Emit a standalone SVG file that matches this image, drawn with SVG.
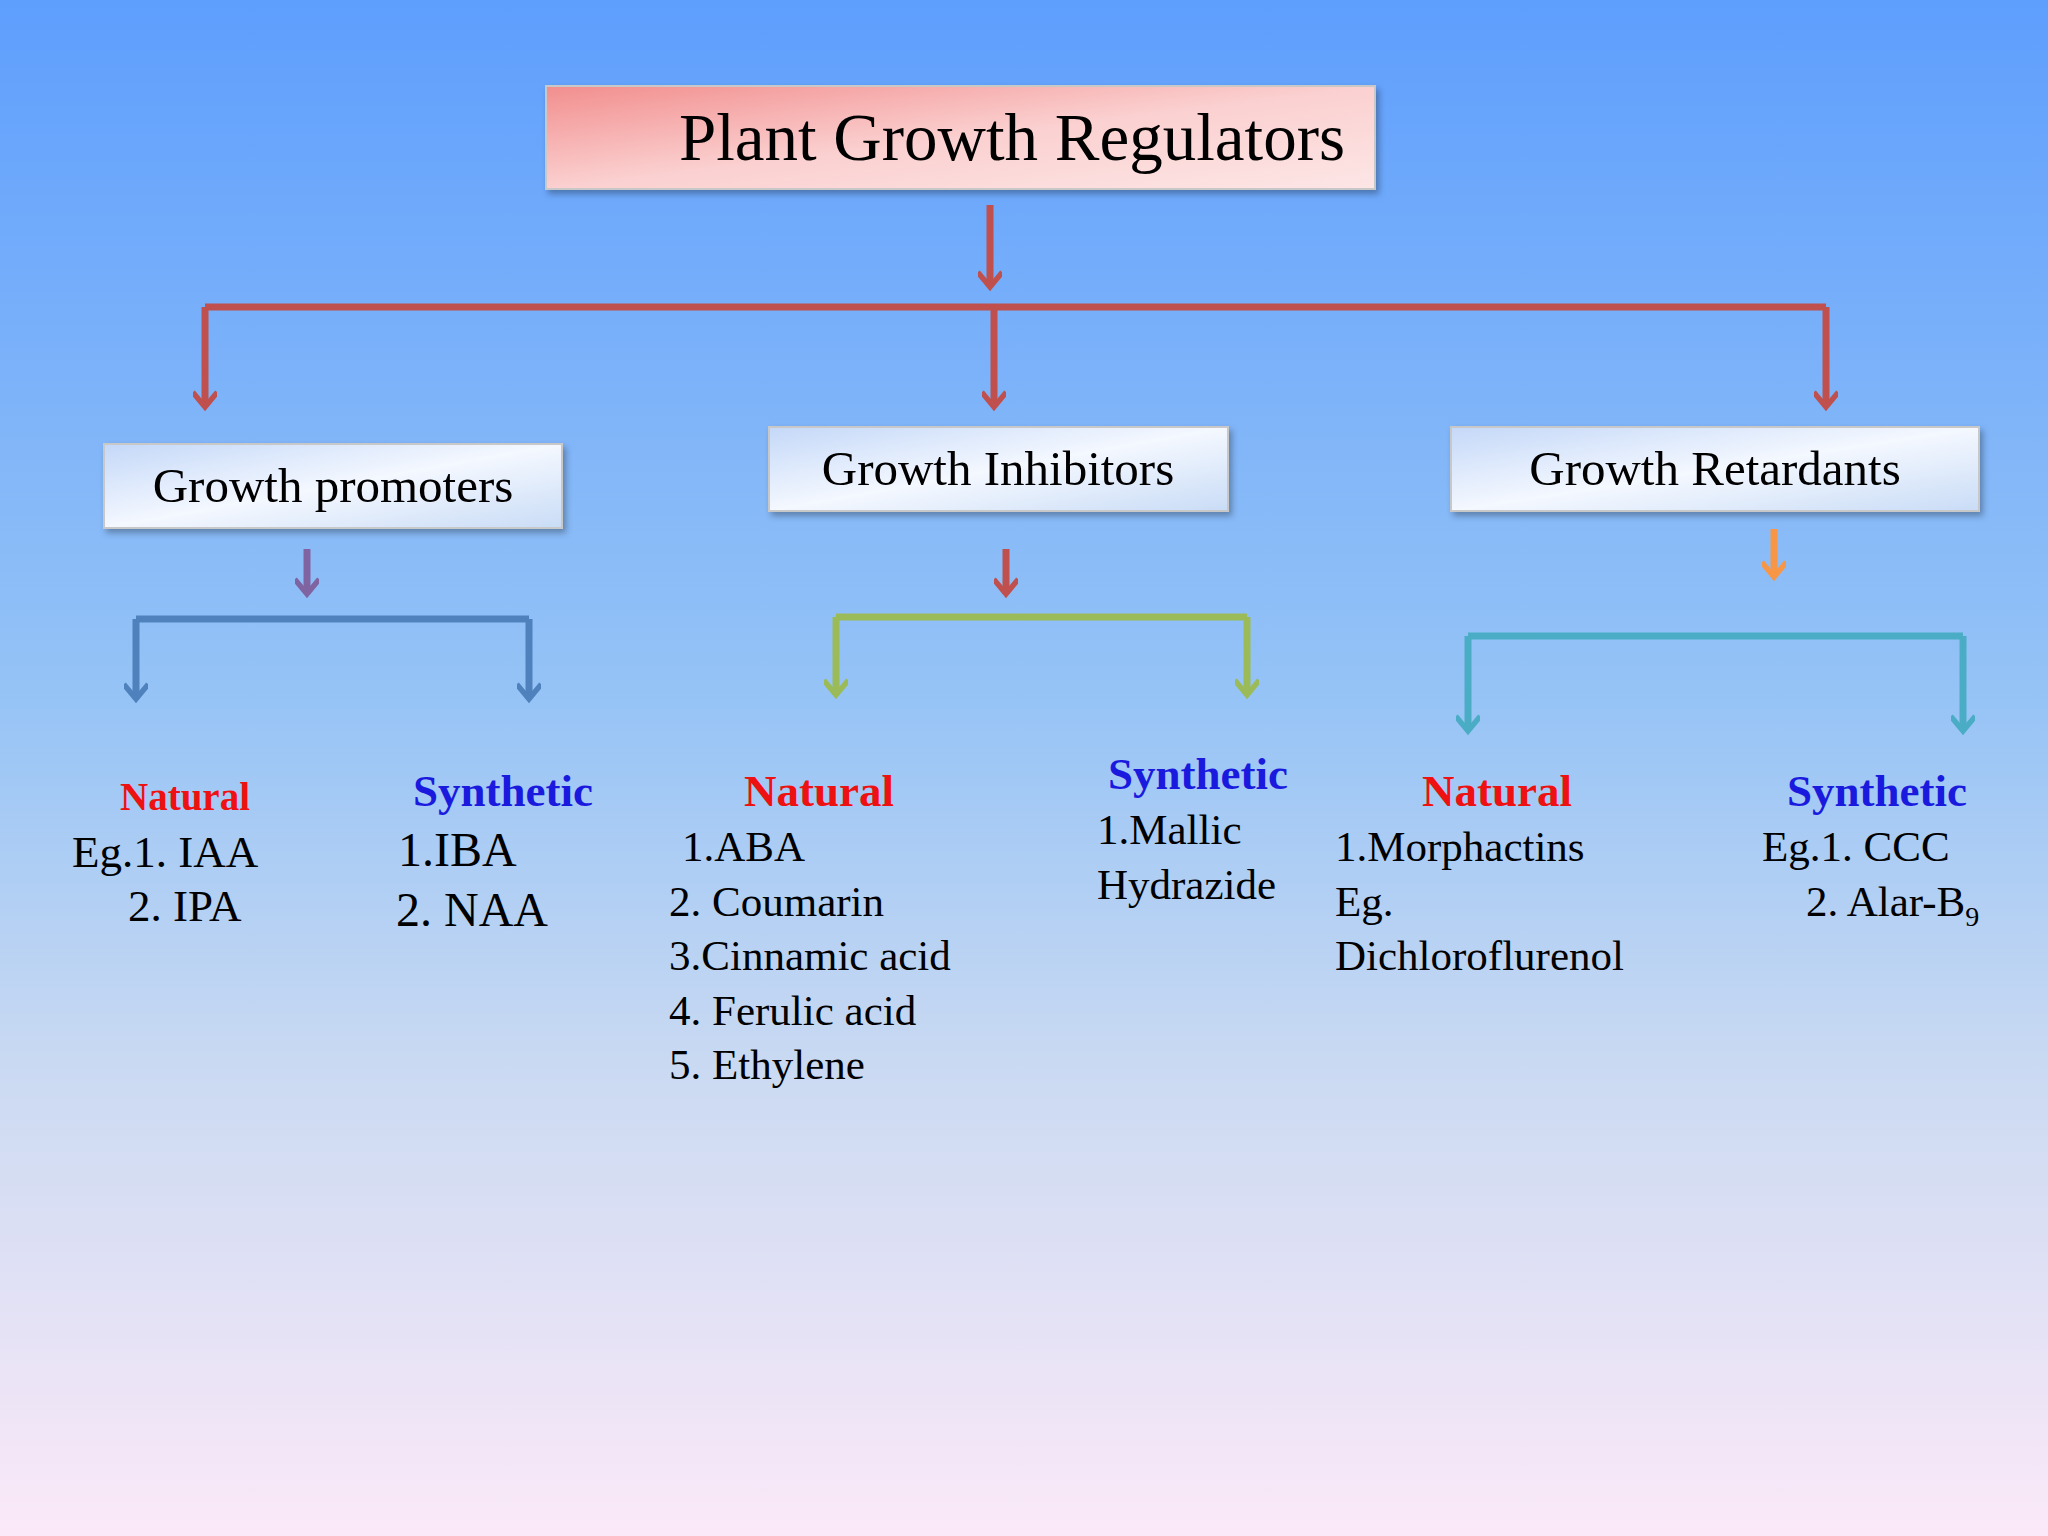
<svg xmlns="http://www.w3.org/2000/svg" width="2048" height="1536" viewBox="0 0 2048 1536">
<defs>
<linearGradient id="bg" x1="0" y1="0" x2="0" y2="1"><stop offset="0" stop-color="#5e9efd"/><stop offset="0.45" stop-color="#95c3f6"/><stop offset="0.7" stop-color="#cbdaf2"/><stop offset="1" stop-color="#fbe9f8"/></linearGradient>
<linearGradient id="tb" x1="0" y1="0" x2="1" y2="1"><stop offset="0" stop-color="#f28e8e"/><stop offset="0.5" stop-color="#fbd0d0"/><stop offset="1" stop-color="#fde6e6"/></linearGradient>
<linearGradient id="nb" x1="0" y1="0" x2="1" y2="1"><stop offset="0" stop-color="#c4d8f8"/><stop offset="0.5" stop-color="#f4f8ff"/><stop offset="1" stop-color="#c9dcf6"/></linearGradient>
<marker id="ar" viewBox="0 0 10 10" refX="8" refY="5" markerWidth="3.5" markerHeight="3.5" orient="auto" markerUnits="strokeWidth"><path d="M2,0 L8,5 L2,10" fill="none" stroke="context-stroke" stroke-width="2.2"/></marker>
<style>
.box{stroke:#c8c8c8;stroke-width:2;filter:drop-shadow(3px 4px 3px rgba(0,0,0,0.3))}
.t{font-family:"Liberation Serif",serif;fill:#000}
.n{font-family:"Liberation Serif",serif;font-weight:bold;fill:#ee1111;font-size:39px}
.s{font-family:"Liberation Serif",serif;font-weight:bold;fill:#1a1adf;font-size:45px}
.c{fill:none;stroke-width:7}
</style>
</defs>
<rect width="2048" height="1536" fill="url(#bg)"/>
<g id="title"><rect class="box" x="546" y="86" width="829" height="103" fill="url(#tb)"/><text class="t" x="1012" y="160" font-size="67" text-anchor="middle">Plant Growth Regulators</text></g>
<g id="promoters"><rect class="box" x="104" y="444" width="458" height="84" fill="url(#nb)"/><text class="t" x="333" y="502" font-size="49" text-anchor="middle">Growth promoters</text></g>
<g id="inhibitors"><rect class="box" x="769" y="427" width="459" height="84" fill="url(#nb)"/><text class="t" x="998" y="485" font-size="49" text-anchor="middle">Growth Inhibitors</text></g>
<g id="retardants"><rect class="box" x="1451" y="427" width="528" height="84" fill="url(#nb)"/><text class="t" x="1715" y="485" font-size="49" text-anchor="middle">Growth Retardants</text></g>
<g id="connectors">
<path class="c" stroke="#c0504d" marker-end="url(#ar)" d="M990,205 V287"/>
<path class="c" stroke="#c0504d" d="M205,307 H1826"/>
<path class="c" stroke="#c0504d" marker-end="url(#ar)" d="M205,307 V407"/>
<path class="c" stroke="#c0504d" marker-end="url(#ar)" d="M994,307 V407"/>
<path class="c" stroke="#c0504d" marker-end="url(#ar)" d="M1826,307 V407"/>
<path class="c" stroke="#8064a2" marker-end="url(#ar)" d="M307,549 V594"/>
<path class="c" stroke="#c0504d" marker-end="url(#ar)" d="M1006,549 V594"/>
<path class="c" stroke="#f79646" marker-end="url(#ar)" d="M1774,529 V577"/>
<path class="c" stroke="#4f81bd" d="M136,619 H529"/>
<path class="c" stroke="#4f81bd" marker-end="url(#ar)" d="M136,619 V699"/>
<path class="c" stroke="#4f81bd" marker-end="url(#ar)" d="M529,619 V699"/>
<path class="c" stroke="#9bbb59" d="M836,617 H1247"/>
<path class="c" stroke="#9bbb59" marker-end="url(#ar)" d="M836,617 V695"/>
<path class="c" stroke="#9bbb59" marker-end="url(#ar)" d="M1247,617 V695"/>
<path class="c" stroke="#4bacc6" d="M1468,636 H1963"/>
<path class="c" stroke="#4bacc6" marker-end="url(#ar)" d="M1468,636 V731"/>
<path class="c" stroke="#4bacc6" marker-end="url(#ar)" d="M1963,636 V731"/>
</g>
<g id="promoters-lists">
<text class="n" x="185" y="810" text-anchor="middle">Natural</text>
<text class="t" font-size="45" x="72" y="867">Eg.1. IAA</text>
<text class="t" font-size="45" x="128" y="921">2. IPA</text>
<text class="s" x="413" y="806">Synthetic</text>
<text class="t" font-size="48" x="398" y="866">1.IBA</text>
<text class="t" font-size="48" x="396" y="926">2. NAA</text>
</g>
<g id="inhibitors-lists">
<text class="s" x="744" y="806" style="fill:#ee1111">Natural</text>
<text class="t" font-size="43" x="682" y="861">1.ABA</text>
<text class="t" font-size="43" x="669" y="916">2. Coumarin</text>
<text class="t" font-size="43" x="669" y="970">3.Cinnamic acid</text>
<text class="t" font-size="43" x="669" y="1025">4. Ferulic acid</text>
<text class="t" font-size="43" x="669" y="1079">5. Ethylene</text>
<text class="s" x="1108" y="789">Synthetic</text>
<text class="t" font-size="43" x="1097" y="844">1.Mallic</text>
<text class="t" font-size="43" x="1097" y="899">Hydrazide</text>
</g>
<g id="retardants-lists">
<text class="s" x="1422" y="806" style="fill:#ee1111">Natural</text>
<text class="t" font-size="43" x="1335" y="861">1.Morphactins</text>
<text class="t" font-size="43" x="1335" y="916">Eg.</text>
<text class="t" font-size="43" x="1335" y="970">Dichloroflurenol</text>
<text class="s" x="1787" y="806">Synthetic</text>
<text class="t" font-size="43" x="1762" y="861">Eg.1. CCC</text>
<text class="t" font-size="43" x="1806" y="916">2. Alar-B<tspan font-size="28" dy="10">9</tspan></text>
</g>
</svg>
